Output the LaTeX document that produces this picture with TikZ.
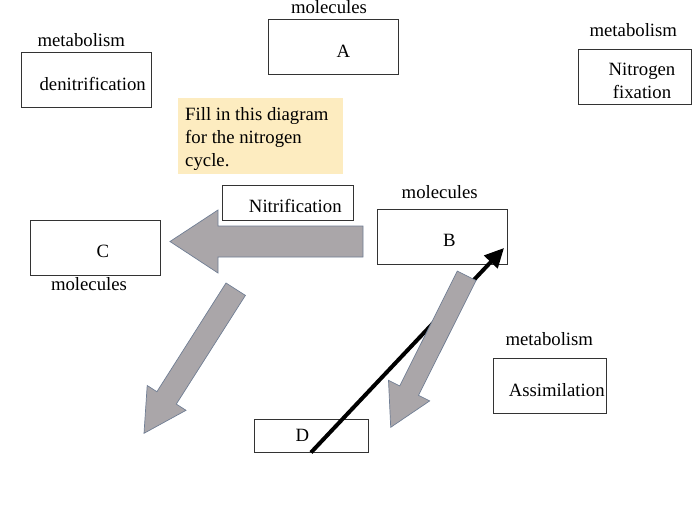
\documentclass[tikz,border=0pt]{standalone}
\usepackage{fontspec}
\setmainfont{Liberation Serif}
\usepackage{tikz}
\usetikzlibrary{arrows.meta}
\definecolor{notefill}{RGB}{253,236,192}
\definecolor{arrowfill}{RGB}{170,166,169}
\definecolor{arrowedge}{RGB}{112,126,148}
\begin{document}
\begin{tikzpicture}[x=0.03cm, y=-0.03cm,
	box/.style={draw=black!80, line width=0.8pt, fill=white, inner sep=0pt},
	lbl/.style={font=\fontsize{16}{19.6}\selectfont, inner sep=0pt, anchor=base},
	grayarrow/.style={fill=arrowfill, draw=arrowedge, line width=0.6pt, line join=miter}]
				\useasboundingbox (0, 0) rectangle (700, 532);
				% boxes
				\node[box, minimum width=3.9cm,  minimum height=1.65cm]  (denit)  at ( 86,  79.5) {};
				\node[box, minimum width=3.9cm,  minimum height=1.65cm]  (boxA)   at (333,  46.5) {};
				\node[box, minimum width=3.39cm, minimum height=1.635cm] (nfix)   at (634.5, 76.75) {};
				\node[box, minimum width=3.93cm, minimum height=1.05cm]  (nitrif) at (287.5, 202.5) {};
				\node[box, minimum width=3.9cm,  minimum height=1.635cm] (boxB)   at (442, 236.75) {};
				\node[box, minimum width=3.9cm,  minimum height=1.65cm]  (boxC)   at ( 95, 247.5) {};
				\node[box, minimum width=3.39cm, minimum height=1.65cm]  (assim)  at (549.5, 385.5) {};
				\node[box, minimum width=3.42cm, minimum height=0.99cm]  (boxD)   at (311, 435.5) {};
				\node[fill=notefill, inner sep=0pt, minimum width=4.95cm, minimum height=2.28cm] (note) at (260.5, 136) {};
				% texts
				\node[lbl] (molA)   at (329,  14)   {molecules};
				\node[lbl] (metD)   at ( 81.3, 46)  {metabolism};
				\node[lbl] (tdenit) at ( 92.7, 90.7) {denitrification};
				\node[lbl] (tA)     at (343.3, 57.3) {A};
				\node[lbl] (metN)   at (633.3, 36)  {metabolism};
				\node[lbl, anchor=center, align=center] (tnfix) at (642, 80.5) {Nitrogen\\fixation};
				\node[lbl, anchor=north west, align=left] (tnote) at (185, 107.3) {Fill in this diagram\\for the nitrogen\\cycle.};
				\node[lbl] (tnitrif) at (295.3, 212.3) {Nitrification};
				\node[lbl] (molB)   at (439.7, 198.3) {molecules};
				\node[lbl] (tB)     at (449.3, 246.7) {B};
				\node[lbl] (tC)     at (103, 257.3) {C};
				\node[lbl] (molC)   at ( 89, 290.7) {molecules};
				\node[lbl] (metS)   at (549.3, 345) {metabolism};
				\node[lbl] (tassim) at (556.7, 396.7) {Assimilation};
				\node[lbl] (tD)     at (302.5, 441.7) {D};
				% black arrow from D into B
				\coordinate (Bin) at (504, 248);
				\draw[black, line width=3.4pt, -{Triangle[length=0.58cm, width=0.54cm]}] (boxD.south) -- (Bin);
				% grey block arrows
				\filldraw[grayarrow] (363, 226) -- (218, 226) -- (218, 210) -- (170, 241.5) -- (218, 273) -- (218, 257) -- (363, 257) -- cycle;
				\filldraw[grayarrow] (226, 283) -- (245.4, 295.4) -- (176.3, 404.1) -- (186, 410.3) -- (144, 433.3) -- (147.2, 385.5) -- (156.9, 391.7) -- cycle;
				\filldraw[grayarrow] (457.3, 271.1) -- (476.1, 280.5) -- (418.5, 395.3) -- (429.7, 400.9) -- (390.7, 427.3) -- (388.5, 380.3) -- (399.7, 385.9) -- cycle;
			\end{tikzpicture}
\end{document}
